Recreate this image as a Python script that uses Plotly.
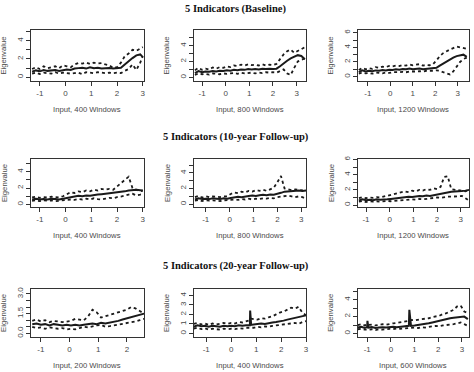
import plotly.graph_objects as go

# ---------------- data ----------------
ROW_TITLES = ["5 Indicators (Baseline)", "5 Indicators (10-year Follow-up)", "5 Indicators (20-year Follow-up)"]
X_TITLES = [["Input, 400 Windows", "Input, 800 Windows", "Input, 1200 Windows"],
            ["Input, 400 Windows", "Input, 800 Windows", "Input, 1200 Windows"],
            ["Input, 200 Windows", "Input, 400 Windows", "Input, 600 Windows"]]
Y_TITLE = "Eigenvalue"

X_A = [-1.30, -1.15, -1.00, -0.85, -0.70, -0.55, -0.40, -0.25, -0.10, 0.05, 0.20, 0.35, 0.50, 0.65, 0.80,
       0.95, 1.10, 1.25, 1.40, 1.55, 1.70, 1.85, 2.00, 2.15, 2.30, 2.45, 2.60, 2.75, 2.90, 3.00]
X_B = [-1.30, -1.15, -1.00, -0.85, -0.70, -0.55, -0.40, -0.25, -0.10, 0.05, 0.20, 0.35, 0.50, 0.65, 0.80,
       0.95, 1.10, 1.25, 1.40, 1.55, 1.70, 1.85, 2.00, 2.15, 2.30, 2.45, 2.60, 2.75, 2.90, 3.05, 3.20, 3.35]
X_C = [-1.40, -1.25, -1.10, -0.95, -0.80, -0.65, -0.50, -0.35, -0.20, -0.05, 0.10, 0.25, 0.40, 0.55, 0.70,
       0.85, 1.00, 1.15, 1.30, 1.45, 1.60, 1.75, 1.90, 2.05, 2.20, 2.35, 2.50, 2.65, 2.80, 2.95, 3.10, 3.25, 3.40]
X_D = [-1.45, -1.30, -1.15, -1.00, -0.85, -0.70, -0.55, -0.40, -0.25, -0.10, 0.05, 0.20, 0.35, 0.50, 0.65,
       0.80, 0.95, 1.10, 1.25, 1.40, 1.55, 1.70, 1.85, 2.00, 2.15, 2.30, 2.45, 2.60, 2.75, 2.90, 3.05, 3.20]
X_E = [-1.30, -1.15, -1.00, -0.85, -0.70, -0.55, -0.40, -0.25, -0.10, 0.05, 0.20, 0.35, 0.50, 0.65, 0.80,
       0.95, 1.10, 1.25, 1.40, 1.55, 1.70, 1.85, 2.00, 2.15, 2.30, 2.45, 2.60]
X_F = [-1.50, -1.35, -1.20, -1.05, -0.90, -0.75, -0.60, -0.45, -0.30, -0.15, 0.00, 0.15, 0.30, 0.45, 0.60,
       0.75, 0.76, 0.80, 0.90, 1.05, 1.20, 1.35, 1.50, 1.65, 1.80, 1.95, 2.10, 2.25, 2.40, 2.55, 2.70, 2.85, 3.00]
X_G = [-1.40, -1.25, -1.10, -1.00, -0.99, -0.95, -0.80, -0.65, -0.50, -0.35, -0.20, -0.05, 0.10, 0.25, 0.40,
       0.55, 0.70, 0.76, 0.78, 0.85, 1.00, 1.15, 1.30, 1.45, 1.60, 1.75, 1.90, 2.05, 2.20, 2.35, 2.50, 2.65,
       2.80, 2.95, 3.10, 3.25]

# Row 1 (Baseline)
R1P1_MEAN = [0.6, 0.75, 0.65, 0.8, 0.7, 0.75, 0.8, 0.7, 0.8, 0.85, 0.8, 0.95, 1.0, 1.05, 0.95, 1.1, 1.0, 1.05,
             0.95, 1.0, 1.0, 0.95, 1.0, 1.05, 1.4, 1.8, 2.1, 2.4, 2.5, 2.2]
R1P1_UP = [0.9, 1.1, 0.9, 1.2, 1.0, 1.1, 1.2, 1.0, 1.3, 1.2, 1.1, 1.4, 1.55, 1.5, 1.6, 1.45, 1.6, 1.5, 1.55, 1.4,
           1.3, 1.0, 1.1, 1.6, 2.3, 2.6, 3.0, 2.9, 3.2, 3.3]
R1P1_LO = [0.4, 0.5, 0.35, 0.5, 0.45, 0.4, 0.55, 0.4, 0.5, 0.45, 0.4, 0.45, 0.5, 0.35, 0.55, 0.5, 0.45, 0.55, 0.5,
           0.45, 0.5, 0.45, 0.5, 0.45, 0.7, 0.9, 1.4, 0.8, 1.6, 2.3]

R1P2_MEAN = [0.55, 0.8, 0.65, 0.75, 0.7, 0.8, 0.75, 0.85, 0.8, 0.9, 0.85, 0.95, 0.9, 1.0, 0.95, 1.05, 1.0, 1.05,
             1.0, 1.1, 1.05, 1.1, 1.05, 1.1, 1.4, 1.8, 2.1, 2.4, 2.6, 2.8, 2.7, 2.3]
R1P2_UP = [0.9, 1.2, 0.95, 1.1, 1.0, 1.25, 1.1, 1.3, 1.2, 1.4, 1.3, 1.5, 1.45, 1.6, 1.5, 1.65, 1.55, 1.6, 1.5, 1.65,
           1.5, 1.6, 1.55, 1.7, 2.3, 2.9, 3.3, 3.5, 3.1, 3.3, 3.6, 3.8]
R1P2_LO = [0.3, 0.5, 0.4, 0.45, 0.35, 0.5, 0.45, 0.4, 0.5, 0.45, 0.5, 0.55, 0.45, 0.6, 0.5, 0.55, 0.6, 0.5, 0.6,
           0.55, 0.65, 0.6, 0.65, 0.6, 0.8, 1.0, 0.5, 0.3, 1.2, 2.0, 2.2, 2.4]

R1P3_MEAN = [0.6, 0.85, 0.7, 0.8, 0.75, 0.85, 0.8, 0.9, 0.85, 0.95, 0.9, 1.0, 0.95, 1.05, 1.0, 1.1, 1.0, 1.05,
             1.1, 1.0, 1.05, 1.1, 1.05, 1.2, 1.5, 1.8, 2.1, 2.4, 2.6, 2.8, 2.9, 3.0, 2.7]
R1P3_UP = [0.9, 1.2, 1.0, 1.15, 1.05, 1.3, 1.2, 1.35, 1.3, 1.45, 1.4, 1.5, 1.45, 1.6, 1.5, 1.65, 1.55, 1.6, 1.7,
           1.5, 1.6, 1.55, 1.7, 2.2, 2.8, 3.2, 3.5, 3.7, 3.9, 4.1, 4.0, 3.9, 3.8]
R1P3_LO = [0.4, 0.55, 0.45, 0.5, 0.4, 0.55, 0.5, 0.45, 0.55, 0.5, 0.6, 0.55, 0.6, 0.65, 0.6, 0.7, 0.65, 0.7, 0.75,
           0.7, 0.8, 0.75, 0.8, 0.85, 0.8, 0.6, 0.4, 0.3, 0.7, 1.4, 2.0, 2.4, 2.6]

# Row 2 (10-year follow-up)
R2P1_MEAN = [0.6, 0.7, 0.6, 0.65, 0.6, 0.7, 0.65, 0.6, 0.7, 0.8, 0.9, 1.0, 1.05, 1.0, 1.1, 1.05, 1.15, 1.2, 1.25,
             1.3, 1.35, 1.4, 1.45, 1.5, 1.6, 1.7, 1.75, 1.8, 1.75, 1.7]
R2P1_UP = [0.85, 0.95, 0.8, 0.9, 0.85, 0.95, 0.9, 0.85, 1.0, 1.3, 1.5, 1.4, 1.6, 1.5, 1.7, 1.6, 1.8, 1.7, 1.9, 1.8,
           1.9, 1.8, 2.2, 2.6, 3.0, 3.4, 2.0, 1.8, 1.6, 1.7]
R2P1_LO = [0.45, 0.5, 0.4, 0.5, 0.45, 0.5, 0.4, 0.45, 0.5, 0.55, 0.6, 0.55, 0.65, 0.6, 0.7, 0.6, 0.75, 0.65, 0.6,
           0.7, 0.8, 0.75, 0.9, 0.95, 1.1, 1.2, 1.3, 1.1, 1.2, 1.3]

R2P2_MEAN = [0.6, 0.75, 0.65, 0.7, 0.65, 0.75, 0.7, 0.65, 0.75, 0.7, 0.8, 0.9, 0.95, 0.9, 1.0, 1.05, 1.1, 1.05,
             1.15, 1.2, 1.15, 1.25, 1.2, 1.3, 1.45, 1.6, 1.65, 1.7, 1.7, 1.75, 1.7, 1.75]
R2P2_UP = [0.9, 1.05, 0.85, 1.0, 0.9, 1.0, 0.95, 0.9, 1.0, 1.0, 1.3, 1.5, 1.4, 1.6, 1.5, 1.7, 1.6, 1.8, 1.7, 1.85,
           1.7, 1.9, 2.1, 2.8, 3.6, 2.0, 1.9, 1.8, 1.9, 1.8, 1.75, 1.85]
R2P2_LO = [0.45, 0.55, 0.4, 0.5, 0.45, 0.5, 0.45, 0.4, 0.5, 0.5, 0.55, 0.6, 0.55, 0.65, 0.6, 0.7, 0.6, 0.7, 0.65,
           0.75, 0.7, 0.8, 0.75, 0.9, 0.95, 1.0, 1.1, 1.0, 0.9, 1.0, 0.9, 0.7]

R2P3_MEAN = [0.6, 0.75, 0.65, 0.7, 0.65, 0.75, 0.7, 0.7, 0.75, 0.8, 0.85, 0.95, 1.0, 1.05, 1.1, 1.05, 1.15, 1.2,
             1.15, 1.25, 1.2, 1.3, 1.35, 1.4, 1.5, 1.7, 1.75, 1.8, 1.8, 1.85, 1.9, 2.0]
R2P3_UP = [0.9, 1.05, 0.9, 1.0, 0.95, 1.05, 1.0, 1.1, 1.2, 1.3, 1.5, 1.6, 1.7, 1.8, 1.7, 1.9, 1.8, 2.0, 1.9, 2.1,
           2.0, 2.2, 2.1, 2.4, 3.7, 3.8, 2.1, 2.0, 1.9, 1.85, 1.8, 2.0]
R2P3_LO = [0.45, 0.55, 0.4, 0.5, 0.45, 0.5, 0.45, 0.5, 0.55, 0.5, 0.55, 0.6, 0.6, 0.65, 0.7, 0.75, 0.7, 0.8, 0.75,
           0.8, 0.85, 0.9, 1.0, 0.95, 1.05, 1.1, 1.1, 1.15, 1.2, 1.2, 0.9, 0.6]

# Row 3 (20-year follow-up)
R3P1_MEAN = [0.7, 0.75, 0.65, 0.7, 0.6, 0.7, 0.65, 0.6, 0.65, 0.6, 0.65, 0.6, 0.65, 0.7, 0.75, 0.7, 0.8, 0.75,
             0.8, 0.85, 0.95, 1.05, 1.15, 1.25, 1.35, 1.4, 1.5]
R3P1_UP = [0.95, 1.05, 0.9, 1.0, 0.85, 0.95, 0.9, 0.85, 0.9, 0.95, 1.1, 1.05, 1.0, 1.3, 1.8, 1.6, 1.2, 1.3, 1.4,
           1.5, 1.6, 1.7, 1.8, 2.0, 1.9, 1.7, 1.5]
R3P1_LO = [0.5, 0.4, 0.45, 0.35, 0.45, 0.4, 0.35, 0.4, 0.3, 0.35, 0.3, 0.4, 0.5, 0.45, 0.55, 0.6, 0.65, 0.5, 0.55,
           0.6, 0.65, 0.7, 0.75, 0.85, 0.9, 1.0, 1.1]

R3P2_MEAN = [0.7, 0.85, 0.75, 0.8, 0.7, 0.8, 0.75, 0.7, 0.8, 0.75, 0.8, 0.75, 0.85, 0.8, 0.85, 0.85, 2.4, 0.9,
             0.95, 1.0, 1.05, 1.0, 1.1, 1.15, 1.2, 1.25, 1.35, 1.45, 1.55, 1.65, 1.75, 1.85, 1.9]
R3P2_UP = [1.0, 1.1, 0.95, 1.05, 0.9, 1.05, 0.95, 1.0, 1.1, 1.0, 1.1, 1.05, 1.2, 1.15, 1.3, 1.4, 1.5, 1.55, 1.5,
           1.45, 1.6, 1.55, 1.7, 1.8, 2.0, 2.2, 2.3, 2.5, 2.7, 2.6, 2.8, 2.2, 1.9]
R3P2_LO = [0.5, 0.6, 0.45, 0.55, 0.4, 0.5, 0.45, 0.4, 0.5, 0.45, 0.5, 0.45, 0.55, 0.5, 0.6, 0.6, 0.6, 0.65, 0.6,
           0.7, 0.65, 0.75, 0.7, 0.8, 0.85, 0.9, 0.95, 1.0, 1.05, 1.1, 1.0, 1.2, 1.3]

R3P3_MEAN = [0.7, 0.8, 0.65, 0.75, 1.5, 0.7, 0.75, 0.65, 0.7, 0.75, 0.7, 0.75, 0.8, 0.75, 0.8, 0.85, 0.85, 0.9,
             2.8, 0.9, 0.95, 1.0, 1.05, 1.1, 1.2, 1.3, 1.4, 1.5, 1.65, 1.75, 1.8, 1.85, 1.9, 1.95, 2.0, 1.7]
R3P3_UP = [1.0, 1.1, 0.95, 1.05, 1.1, 1.0, 1.05, 0.95, 1.0, 1.1, 1.05, 1.15, 1.2, 1.25, 1.3, 1.35, 1.4, 1.5, 1.55,
           1.6, 1.55, 1.65, 1.7, 1.75, 1.8, 1.95, 2.0, 2.1, 2.3, 2.4, 2.6, 2.8, 3.2, 3.3, 2.6, 2.4]
R3P3_LO = [0.5, 0.55, 0.45, 0.5, 0.5, 0.45, 0.5, 0.4, 0.5, 0.45, 0.5, 0.55, 0.5, 0.6, 0.55, 0.6, 0.65, 0.6, 0.6,
           0.65, 0.7, 0.65, 0.75, 0.7, 0.8, 0.85, 0.9, 0.85, 0.95, 1.0, 1.0, 1.1, 1.2, 1.3, 1.1, 0.9]

X_TICKS_A = [-1, 0, 1, 2, 3]
X_TICKS_B = [-1, 0, 1, 2]
Y_TICKS_5 = [0, 1, 2, 3, 4, 5]
Y_LABELS_5 = ["0", "", "2", "", "4", ""]
Y_TICKS_6 = [0, 1, 2, 3, 4, 5, 6]
Y_LABELS_6 = ["0", "", "2", "", "4", "", "6"]
Y_TICKS_3 = [0, 0.5, 1.0, 1.5, 2.0, 2.5, 3.0]
Y_LABELS_3 = ["0.0", "", "", "1.5", "", "", "3.0"]
Y_TICKS_4 = [0, 1, 2, 3, 4]
Y_LABELS_4 = ["0", "1", "2", "3", "4"]

# ---------------- panel assembly ----------------
panels = [
    dict(x=X_A, m=R1P1_MEAN, u=R1P1_UP, l=R1P1_LO, xr=[-1.35, 3.05], yr=[-0.45, 5.2], xt=X_TICKS_A, yt=Y_TICKS_5, yl=Y_LABELS_5),
    dict(x=X_B, m=R1P2_MEAN, u=R1P2_UP, l=R1P2_LO, xr=[-1.35, 3.4], yr=[-0.5, 6.0], xt=X_TICKS_A, yt=Y_TICKS_5, yl=Y_LABELS_5),
    dict(x=X_C, m=R1P3_MEAN, u=R1P3_UP, l=R1P3_LO, xr=[-1.45, 3.5], yr=[-0.65, 6.4], xt=X_TICKS_A, yt=Y_TICKS_6, yl=Y_LABELS_6),
    dict(x=X_A, m=R2P1_MEAN, u=R2P1_UP, l=R2P1_LO, xr=[-1.35, 3.05], yr=[-0.36, 5.6], xt=X_TICKS_A, yt=Y_TICKS_5, yl=Y_LABELS_5),
    dict(x=X_D, m=R2P2_MEAN, u=R2P2_UP, l=R2P2_LO, xr=[-1.5, 3.2], yr=[-0.4, 5.8], xt=X_TICKS_A, yt=Y_TICKS_5, yl=Y_LABELS_5),
    dict(x=X_B, m=R2P3_MEAN, u=R2P3_UP, l=R2P3_LO, xr=[-1.35, 3.35], yr=[-0.3, 6.1], xt=X_TICKS_A, yt=Y_TICKS_6, yl=Y_LABELS_6),
    dict(x=X_E, m=R3P1_MEAN, u=R3P1_UP, l=R3P1_LO, xr=[-1.35, 2.6], yr=[-0.3, 3.4], xt=X_TICKS_B, yt=Y_TICKS_3, yl=Y_LABELS_3),
    dict(x=X_F, m=R3P2_MEAN, u=R3P2_UP, l=R3P2_LO, xr=[-1.5, 3.0], yr=[-0.4, 4.7], xt=X_TICKS_A, yt=Y_TICKS_4, yl=Y_LABELS_4),
    dict(x=X_G, m=R3P3_MEAN, u=R3P3_UP, l=R3P3_LO, xr=[-1.4, 3.3], yr=[-0.45, 5.3], xt=X_TICKS_A, yt=Y_TICKS_5, yl=Y_LABELS_5),
]

W, H = 474, 372
COLS = [(31, 145), (195, 308), (360, 472)]
ROWS = [(27, 79), (157, 206), (288, 337)]
TITLE_Y = [6, 135, 265]

LINE_C = "#1a1a1a"
TEXT_C = "#4a4a4a"
SANS = "Liberation Sans, Arial, sans-serif"

fig = go.Figure()
layout = dict(width=W, height=H, margin=dict(l=0, r=0, t=0, b=0), paper_bgcolor="white",
              plot_bgcolor="white", showlegend=False)
annotations = []

for i, p in enumerate(panels):
    r, c = divmod(i, 3)
    n = i + 1
    xs = "x" if n == 1 else f"x{n}"
    ys = "y" if n == 1 else f"y{n}"
    for series, dash in ((p["u"], "dot"), (p["l"], "dot"), (p["m"], "solid")):
        fig.add_trace(go.Scatter(x=p["x"], y=series, mode="lines", xaxis=xs, yaxis=ys,
                                 line=dict(color=LINE_C, width=1.8 if dash == "dot" else 2.0, dash=dash),
                                 hoverinfo="skip"))
    x0, x1 = COLS[c]
    y0, y1 = ROWS[r]
    common = dict(showline=True, mirror=True, linecolor="#333", linewidth=1, ticks="outside",
                  ticklen=4, tickcolor="#333", showgrid=False, zeroline=False,
                  tickfont=dict(family=SANS, size=8, color=TEXT_C))
    layout[f"xaxis{'' if n == 1 else n}"] = dict(
        domain=[x0 / W, x1 / W], range=p["xr"], anchor=ys, tickvals=p["xt"],
        ticktext=[str(v) for v in p["xt"]], **common)
    layout[f"yaxis{'' if n == 1 else n}"] = dict(
        domain=[1 - y1 / H, 1 - y0 / H], range=p["yr"], anchor=xs, tickvals=p["yt"],
        ticktext=p["yl"], tickangle=-90, **common)
    annotations.append(dict(text=X_TITLES[r][c], xref="paper", yref="paper",
                            x=(x0 + x1) / 2 / W, y=1 - (y1 + 28) / H, showarrow=False,
                            xanchor="center", yanchor="middle",
                            font=dict(family=SANS, size=7.7, color=TEXT_C)))
    annotations.append(dict(text=Y_TITLE, xref="paper", yref="paper",
                            x=(x0 - 27) / W, y=1 - (y0 + y1) / 2 / H, showarrow=False,
                            textangle=-90, xanchor="center", yanchor="middle",
                            font=dict(family=SANS, size=7.7, color=TEXT_C)))

for r in range(3):
    annotations.append(dict(text=f"<b>{ROW_TITLES[r]}</b>", xref="paper", yref="paper",
                            x=237 / W, y=1 - TITLE_Y[r] / H, showarrow=False,
                            xanchor="center", yanchor="middle",
                            font=dict(family="Liberation Serif, Times New Roman, serif", size=10.5,
                                      color="#111")))

layout["annotations"] = annotations
fig.update_layout(**layout)
fig.write_html("out.html", config={"displayModeBar": False, "staticPlot": True},
               post_script="document.body.style.margin='0';document.body.style.overflow='hidden';")
